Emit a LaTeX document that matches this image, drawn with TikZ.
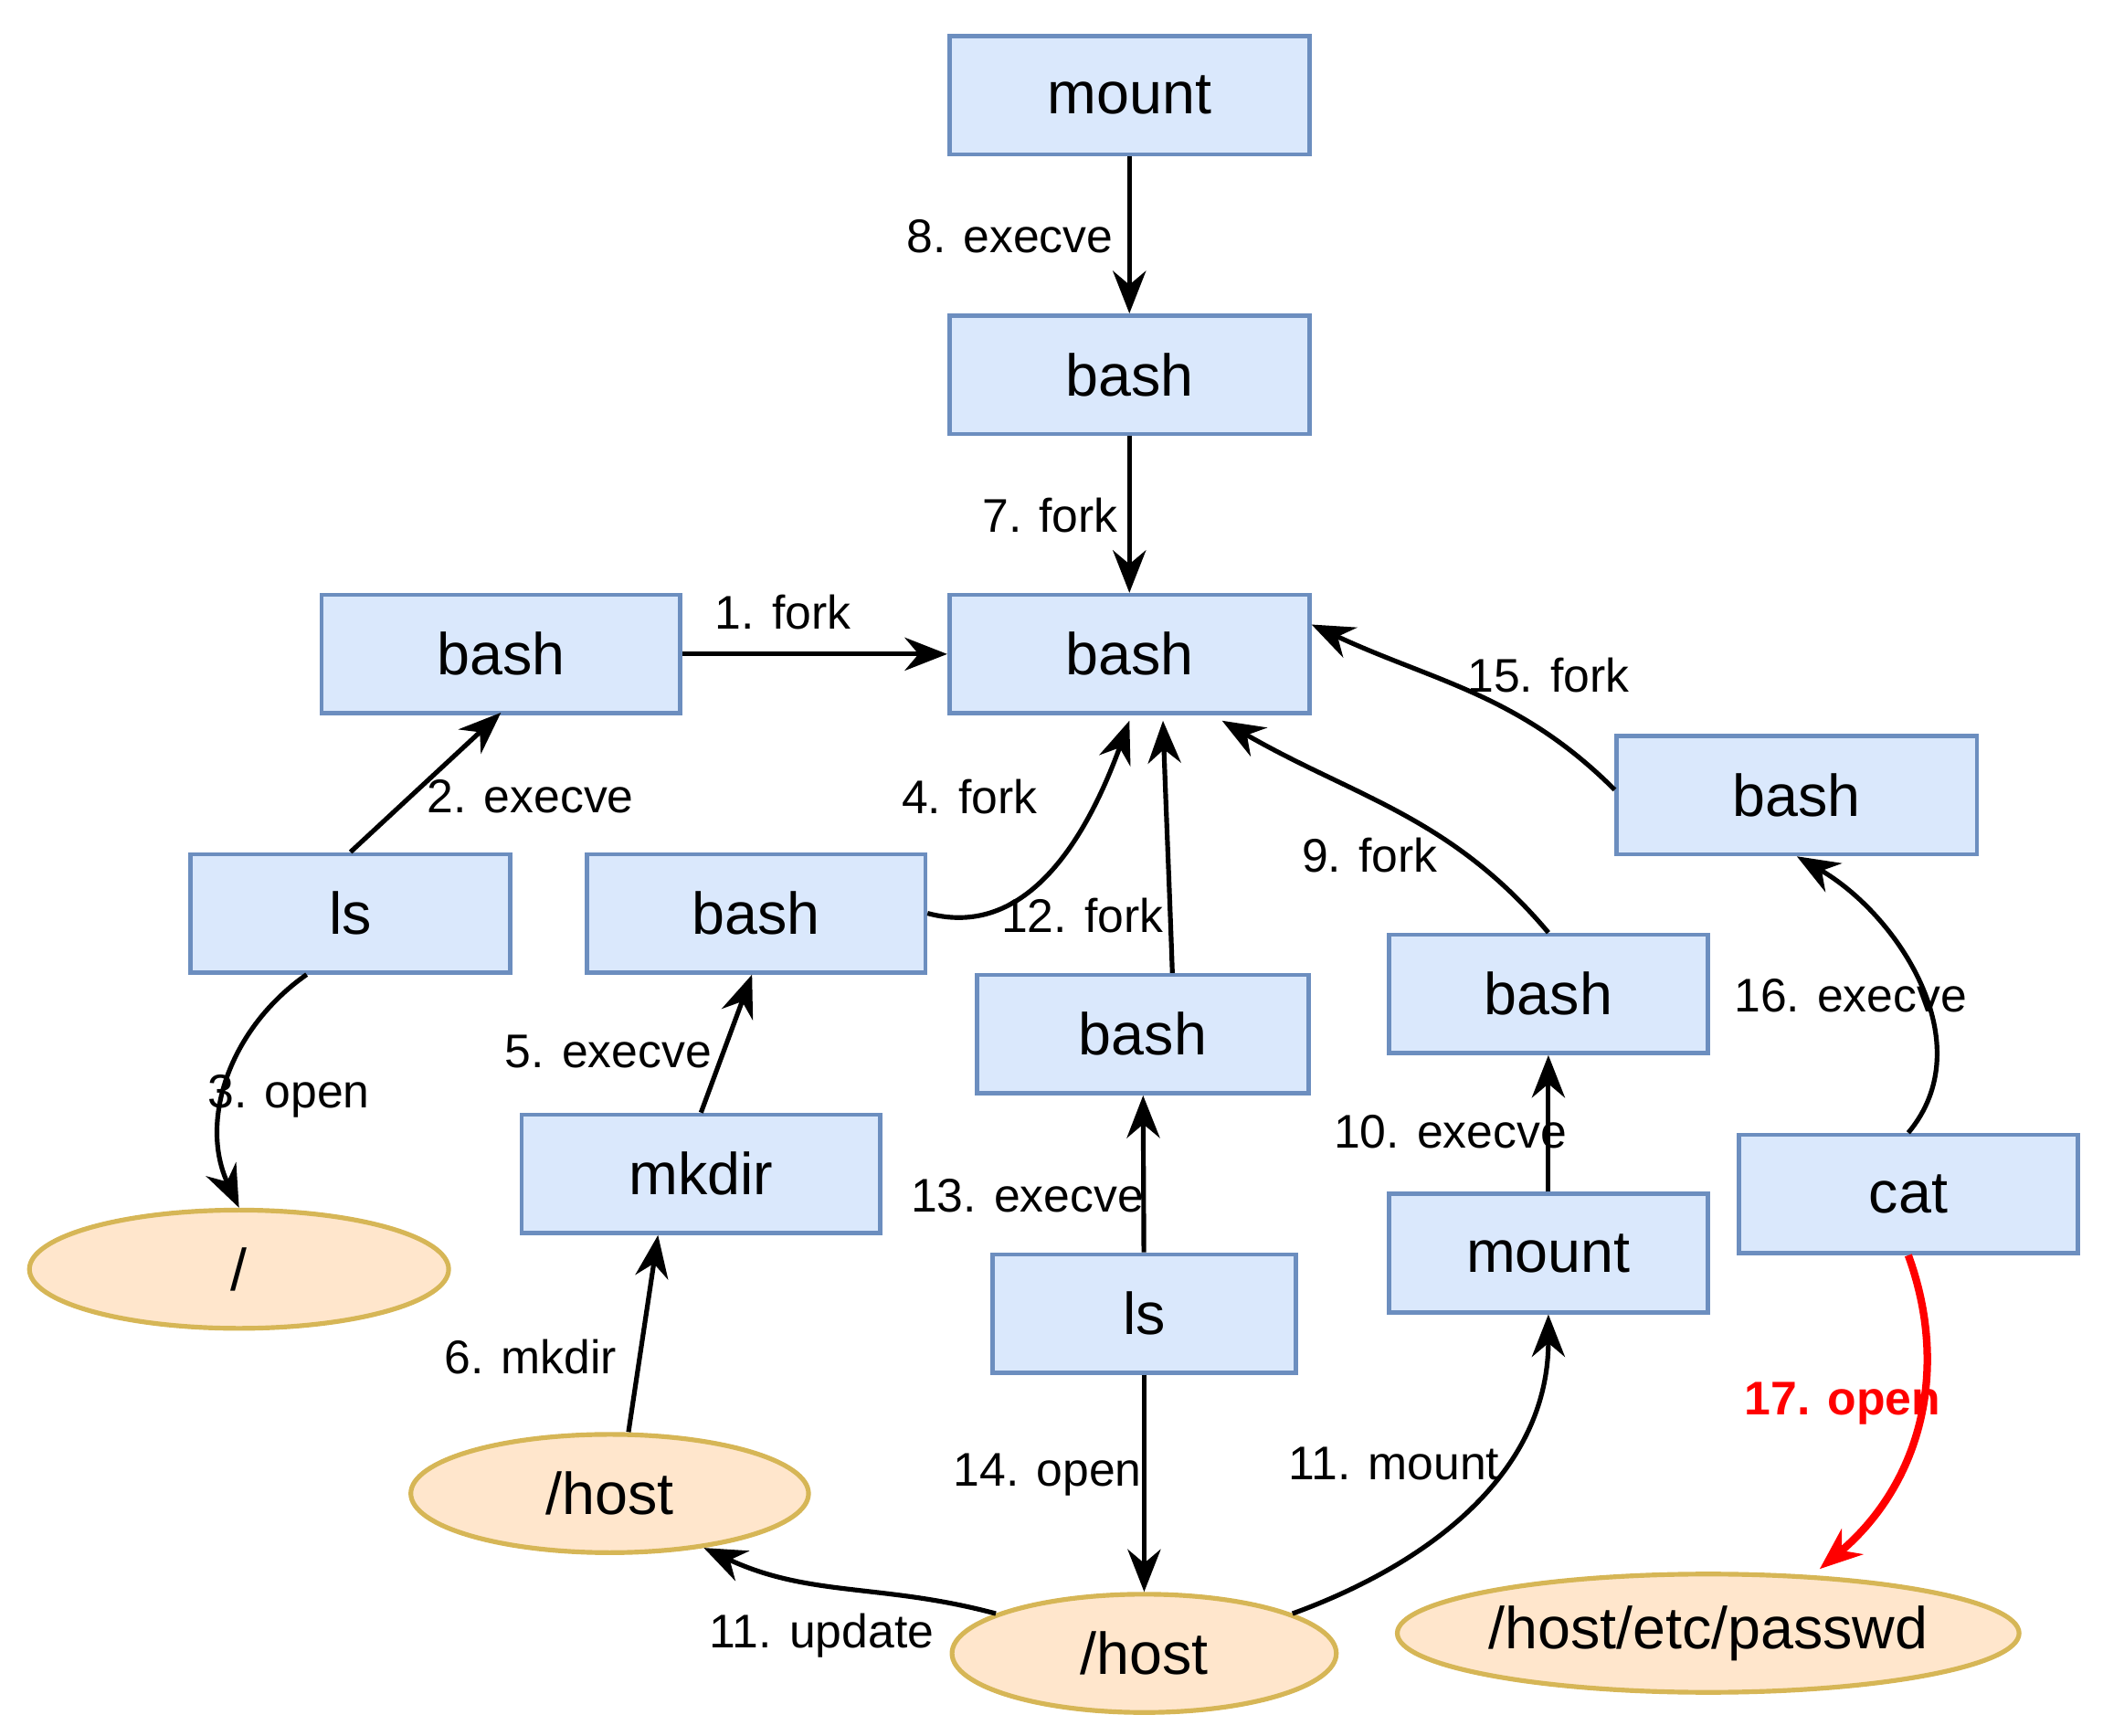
\documentclass[tikz,border=0pt]{standalone}
\usepackage{fontspec}
\setmainfont{Liberation Sans}
\usetikzlibrary{arrows.meta,shapes.geometric,calc}
\definecolor{procfill}{HTML}{DAE8FC}
\definecolor{procline}{HTML}{6C8EBF}
\definecolor{filefill}{HTML}{FFE6CC}
\definecolor{fileline}{HTML}{D6B656}
\begin{document}
\begin{tikzpicture}[x=0.01cm,y=-0.01cm,
  proc/.style={draw=procline,fill=procfill,line width=0.9pt,minimum height=0.88cm,font=\fontsize{12.5}{14}\selectfont,inner sep=0pt},
  file/.style={ellipse,draw=fileline,fill=filefill,line width=1pt,minimum height=0.88cm,font=\fontsize{12.5}{14}\selectfont,inner sep=0pt},
  arr/.style={-{Stealth[length=9pt,width=7pt]},line width=1pt},
  lbl/.style={font=\fontsize{10}{12}\selectfont}]
\useasboundingbox (0,0) rectangle (1566,1292);
% processes
\node[proc,minimum width=2.68cm] (mnt) at (841,71) {mount};
\node[proc,minimum width=2.68cm] (b2) at (841,279) {bash};
\node[proc,minimum width=2.68cm] (b) at (841,487) {bash};
\node[proc,minimum width=2.67cm] (bl) at (373,487) {bash};
\node[proc,minimum width=2.38cm] (ls) at (261,680) {ls};
\node[proc,minimum width=2.52cm] (b4) at (563,680) {bash};
\node[proc,minimum width=2.67cm] (mk) at (522,874) {mkdir};
\node[proc,minimum width=2.47cm] (b12) at (851,770) {bash};
\node[proc,minimum width=2.26cm] (ls13) at (852,978) {ls};
\node[proc,minimum width=2.37cm] (b9) at (1153,740) {bash};
\node[proc,minimum width=2.37cm] (m11) at (1153,933) {mount};
\node[proc,minimum width=2.68cm] (b15) at (1338,592) {bash};
\node[proc,minimum width=2.52cm] (cat) at (1421,889) {cat};
% files
\node[file,minimum width=3.12cm] (root) at (178,945) {/};
\node[file,minimum width=2.96cm] (h1) at (454,1112) {/host};
\node[file,minimum width=2.86cm] (h2) at (852,1231) {/host};
\node[file,minimum width=3.56cm] (pw) at (1272,1216) {/host/etc/passwd};
% edges
\draw[arr] (mnt) -- (b2);
\node[lbl] at (752,176) {8. execve};
\draw[arr] (b2) -- (b);
\node[lbl] at (782,384) {7. fork};
\draw[arr] (bl) -- (b);
\node[lbl] at (583,456) {1. fork};
\draw[arr] (ls.north) -- ($(bl.south)+(0,-2)$);
\node[lbl] at (395,593) {2. execve};
\draw[arr] (b4.east) to[out=-15,in=-110] ($(b.south)+(0,4)$);
\node[lbl] at (722,593) {4. fork};
\draw[arr] ($(ls.south west)+(88,0)$) to[out=-145,in=115] (root.north);
\node[lbl] at (215,816) {3. open};
\draw[arr] (mk.north) -- ($(b4.south)+(-3,0)$);
\node[lbl] at (453,783) {5. execve};
\draw[arr] ($(h1.north)+(14,0)$) -- ($(mk.south)+(-32,0)$);
\node[lbl] at (395,1010) {6. mkdir};
\draw[arr] ($(b12.north)+(22,0)$) to[out=92,in=-88] ($(b.south)+(25,4)$);
\node[lbl] at (806,682) {12. fork};
\draw[arr] (ls13) -- (b12);
\node[lbl] at (765,890) {13. execve};
\draw[arr] (ls13) -- (h2);
\node[lbl] at (780,1098) {14. open};
\draw[arr] (h2.165) to[out=165,in=-25] (h1.-30);
\node[lbl] at (612,1218) {11. update};
\draw[arr] (h2.15) to[out=20,in=-90] (m11.south);
\node[lbl] at (1038,1090) {11. mount};
\draw[arr] (m11) -- (b9);
\node[lbl] at (1080,843) {10. execve};
\draw[arr] (b9.north) to[out=130,in=-30] ($(b.south)+(69,4)$);
\node[lbl] at (1020,637) {9. fork};
\draw[arr] ($(b15.west)+(0,-4)$) to[out=135,in=-25] ($(b.east)+(0,-22)$);
\node[lbl] at (1153,503) {15. fork};
\draw[arr] (cat.north) to[out=50,in=-30] (b15.south);
\node[lbl] at (1378,741) {16. execve};
\draw[arr,red,line width=1.6pt] (cat.south) to[out=-70,in=40] ($(pw.north)+(83,-2)$);
\node[lbl,red,font=\fontsize{10}{12}\selectfont\bfseries] at (1372,1045) {17. open};
\end{tikzpicture}
\end{document}
